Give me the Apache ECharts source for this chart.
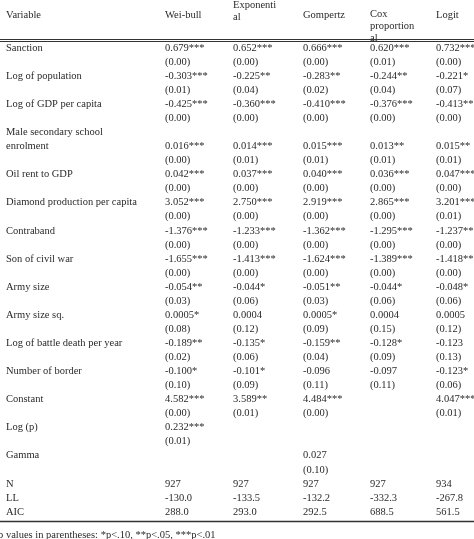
<!DOCTYPE html><html><head><meta charset="utf-8">
<script src="https://cdn.jsdelivr.net/npm/echarts@6/dist/echarts.min.js"></script>
<style>html,body{margin:0;padding:0;background:#fff}#c{width:474px;height:539px}</style></head><body><div id="c"></div>
<script>
const headers=[["Variable"],["Wei-bull"],["Exponenti","al"],["Gompertz"],["Cox","proportion","al"],["Logit"]];
const variables=["Sanction","Log of population","Log of GDP per capita","Male secondary school|enrolment","Oil rent to GDP","Diamond production per capita","Contraband","Son of civil war","Army size","Army size sq.","Log of battle death per year","Number of border","Constant","Log (p)","Gamma"];
const coefs=[
["0.679***","0.652***","0.666***","0.620***","0.732***"],
["-0.303***","-0.225**","-0.283**","-0.244**","-0.221*"],
["-0.425***","-0.360***","-0.410***","-0.376***","-0.413***"],
["0.016***","0.014***","0.015***","0.013**","0.015**"],
["0.042***","0.037***","0.040***","0.036***","0.047***"],
["3.052***","2.750***","2.919***","2.865***","3.201***"],
["-1.376***","-1.233***","-1.362***","-1.295***","-1.237***"],
["-1.655***","-1.413***","-1.624***","-1.389***","-1.418***"],
["-0.054**","-0.044*","-0.051**","-0.044*","-0.048*"],
["0.0005*","0.0004","0.0005*","0.0004","0.0005"],
["-0.189**","-0.135*","-0.159**","-0.128*","-0.123"],
["-0.100*","-0.101*","-0.096","-0.097","-0.123*"],
["4.582***","3.589**","4.484***","","4.047***"],
["0.232***","","","",""],
["","","0.027","",""]];
const pvals=[
["(0.00)","(0.00)","(0.00)","(0.01)","(0.00)"],
["(0.01)","(0.04)","(0.02)","(0.04)","(0.07)"],
["(0.00)","(0.00)","(0.00)","(0.00)","(0.00)"],
["(0.00)","(0.01)","(0.01)","(0.01)","(0.01)"],
["(0.00)","(0.00)","(0.00)","(0.00)","(0.00)"],
["(0.00)","(0.00)","(0.00)","(0.00)","(0.01)"],
["(0.00)","(0.00)","(0.00)","(0.00)","(0.00)"],
["(0.00)","(0.00)","(0.00)","(0.00)","(0.00)"],
["(0.03)","(0.06)","(0.03)","(0.06)","(0.06)"],
["(0.08)","(0.12)","(0.09)","(0.15)","(0.12)"],
["(0.02)","(0.06)","(0.04)","(0.09)","(0.13)"],
["(0.10)","(0.09)","(0.11)","(0.11)","(0.06)"],
["(0.00)","(0.01)","(0.00)","","(0.01)"],
["(0.01)","","","",""],
["","","(0.10)","",""]];
const stats=[["N","927","927","927","927","934"],["LL","-130.0","-133.5","-132.2","-332.3","-267.8"],["AIC","288.0","293.0","292.5","688.5","561.5"]];
const footnote="p values in parentheses: *p<.10, **p<.05, ***p<.01";

const colX=[6,165,233,303,370,436], y0=48, step=14.06, hy=[15,15,5,15,14,15];
const font='10.5px "Liberation Serif","DejaVu Serif",serif', col='#2a2a2a';
const g=[];
function t(x,y,s){g.push({type:'text',x:x,y:y,style:{text:s,font:font,fill:col,textVerticalAlign:'middle'}});}
headers.forEach((h,i)=>h.forEach((s,j)=>t(colX[i],hy[i]+j*12,s)));
let r=0;
variables.forEach((v,i)=>{
  const parts=v.split('|');
  if(parts.length>1){t(colX[0],y0+r*step,parts[0]);r++;}
  t(colX[0],y0+r*step,parts[parts.length-1]);
  coefs[i].forEach((c,k)=>{if(c)t(colX[k+1],y0+r*step,c);});
  r++;
  pvals[i].forEach((c,k)=>{if(c)t(colX[k+1],y0+r*step,c);});
  r++;
});
stats.forEach(s=>{s.forEach((c,k)=>t(colX[k],y0+r*step,c));r++;});
t(-2,535,footnote);
g.push({type:'line',shape:{x1:0,y1:39.5,x2:474,y2:39.5},style:{stroke:'#333',lineWidth:1}});
g.push({type:'line',shape:{x1:0,y1:41.5,x2:474,y2:41.5},style:{stroke:'#333',lineWidth:1}});
g.push({type:'line',shape:{x1:0,y1:521.5,x2:474,y2:521.5},style:{stroke:'#333',lineWidth:1.5}});
const ch=echarts.init(document.getElementById('c'));
ch.setOption({animation:false,graphic:g});
</script></body></html>
